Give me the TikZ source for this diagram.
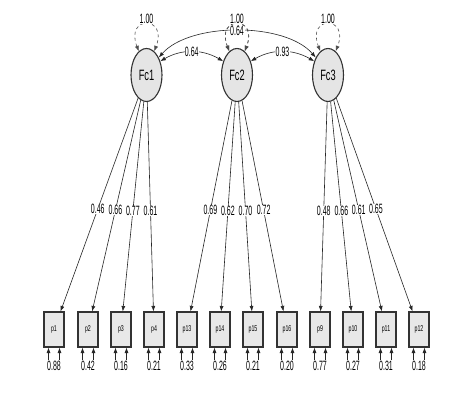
\documentclass[tikz,border=0pt]{standalone}
\usepackage{fontspec}
\setmainfont{Liberation Sans}
\newfontfamily\narrowf[FakeStretch=0.52]{Liberation Sans}
\newfontfamily\fcfont[FakeStretch=0.62]{Liberation Sans}
\usetikzlibrary{shapes.geometric,arrows.meta,calc}
\begin{document}
\begin{tikzpicture}[x=1pt,y=-1pt,
  latent/.style={ellipse, draw=black!80, line width=1.1pt, fill=black!10,
    minimum width=31pt, minimum height=53pt, inner sep=0pt,
    font=\fcfont\fontsize{15}{15}\selectfont},
  obs/.style={rectangle, draw=black!80, line width=1.1pt, fill=black!9,
    minimum width=20pt, minimum height=35pt, inner sep=0pt,
    font=\fcfont\fontsize{8.5}{8.5}\selectfont},
  lab/.style={font=\narrowf\fontsize{13.5}{13.5}\selectfont, inner sep=0.3pt, fill=white},
  conn/.style={draw=black!85, line width=0.6pt, -{Latex[length=5.5pt,width=4pt]}},
  cov/.style={draw=black!85, line width=0.6pt, {Latex[length=5.5pt,width=4pt]}-{Latex[length=5.5pt,width=4pt]}},
  varloop/.style={draw=black!70, line width=0.6pt, dashed, {Latex[length=5.5pt,width=4pt]}-{Latex[length=5.5pt,width=4pt]}}
]
\useasboundingbox (0,0) rectangle (474,406);
\fill[white] (0,0) rectangle (474,406);

% latent factors
\node[latent] (Fc1) at (146.5,75) {Fc1};
\node[latent] (Fc2) at (237,75) {Fc2};
\node[latent] (Fc3) at (328,75) {Fc3};

% variance loops
\foreach \f in {Fc1,Fc2,Fc3}{
  \draw[varloop] (\f.108) .. controls +(-14,-36) and +(14,-36) .. (\f.72);
}

% covariances
\draw[cov] (Fc1.55) .. controls (190,22) and (285,22) .. node[lab,pos=0.5] (c13) {0.64} (Fc3.125);
\draw[cov] (Fc1.45) to[bend left=30] node[lab,pos=0.5] (c12) {0.64} (Fc2.135);
\draw[cov] (Fc2.45) to[bend left=30] node[lab,pos=0.5] (c23) {0.93} (Fc3.135);

% redraw Fc2 loop sides over the covariance label
\draw[varloop] (Fc2.108) .. controls +(-14,-36) and +(14,-36) .. (Fc2.72);
\node[lab] (c13b) at (237,31) {0.64};

% variance labels
\foreach \f in {Fc1,Fc2,Fc3}{
  \node[lab] (v\f) at ($(\f.north)+(0,-29.5)$) {1.00};
}

% observed variables and residuals
\foreach \n/\x/\v in {p1/54/0.88, p2/88/0.42, p3/121/0.16, p4/154/0.21,
                      p13/187/0.33, p14/220/0.26, p15/253/0.21, p16/287/0.20,
                      p9/320/0.77, p10/353/0.27, p11/386/0.31, p12/419/0.18}{
  \node[obs] (\n) at (\x,329.5) {\n};
  \node[lab] (e\n) at (\x,365.5) {\v};
  \draw[conn] ([xshift=-5.5pt]e\n.north) -- ([xshift=-5.5pt]\n.south);
  \draw[conn] ([xshift=5.5pt]e\n.north) -- ([xshift=5.5pt]\n.south);
}

% loadings
\foreach \f/\n in {Fc1/p1, Fc1/p2, Fc1/p3, Fc1/p4,
                   Fc2/p13, Fc2/p14, Fc2/p15, Fc2/p16,
                   Fc3/p9, Fc3/p10, Fc3/p11, Fc3/p12}{
  \draw[conn] (\f) -- (\n);
}
\foreach \f/\n/\v in {Fc1/p1/0.46, Fc1/p2/0.66, Fc1/p3/0.77, Fc1/p4/0.61,
                      Fc2/p13/0.69, Fc2/p14/0.62, Fc2/p15/0.70, Fc2/p16/0.72,
                      Fc3/p9/0.48, Fc3/p10/0.66, Fc3/p11/0.61, Fc3/p12/0.65}{
  \path (\f) -- node[lab,pos=0.52] (l\n) {\v} (\n);
}
\end{tikzpicture}
\end{document}
